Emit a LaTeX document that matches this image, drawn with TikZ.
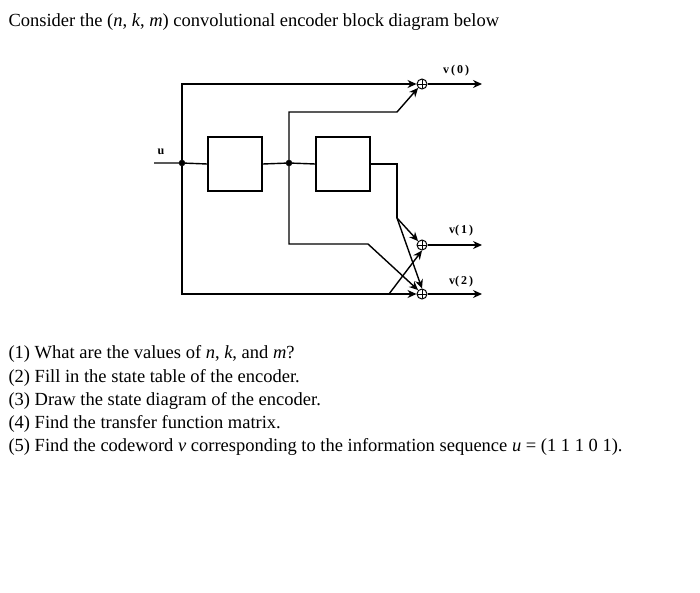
\documentclass[tikz,border=0pt]{standalone}
\usepackage{fontspec}
\setmainfont{Liberation Serif}
\usetikzlibrary{arrows.meta}
\begin{document}
\begin{tikzpicture}[x=1pt,y=-1pt,
  wire/.style={line width=1.4pt},
  arr/.style={wire,-{Stealth[length=9pt,width=8pt]}},
  reg/.style={draw,line width=1.4pt,minimum width=54pt,minimum height=54pt,inner sep=0},
  add/.style={circle,draw,line width=1pt,minimum size=10pt,inner sep=0,path picture={\draw[line width=1pt] (path picture bounding box.north)--(path picture bounding box.south) (path picture bounding box.west)--(path picture bounding box.east);}},
  dot/.style={circle,fill,draw,inner sep=0,minimum size=6pt},
  txt/.style={anchor=base west,font=\fontsize{18.5}{20}\selectfont},
  lab/.style={font=\bfseries\fontsize{12}{14}\selectfont}]
\useasboundingbox (0,0) rectangle (700,592);
\node[txt] (title) at (5,26) {Consider the (\textit{n}, \textit{k}, \textit{m}) convolutional encoder block diagram below};
\coordinate (in) at (154,163);
\node[dot] (d1) at (182,163) {};
\node[reg] (r1) at (235,164) {};
\node[dot] (d2) at (289,163) {};
\node[reg] (r2) at (343,164) {};
\node[add] (a0) at (422,84) {};
\node[add] (a1) at (422,245) {};
\node[add] (a2) at (422,294) {};
\coordinate (o0) at (482,84);
\coordinate (o1) at (482,245);
\coordinate (o2) at (482,294);
\node[lab] (u) at (161,152) {u};
\node[lab] (l0) at (456,71) {v\,(\,0\,)};
\node[lab] (l1) at (461,231) {v(\,1\,)};
\node[lab] (l2) at (461,282) {v(\,2\,)};
\draw[wire] (in) -- (d1) -- (r1.west) (r1.east) -- (d2) -- (r2.west);
\draw[arr] (d1) |- (a0.west);
\draw[arr] (d2) |- (397,112) -- (a0.south west);
\draw[wire] (r2.east) -| (397,218) coordinate (s1);
\draw[arr] (s1) -- (a1.north west);
\draw[arr] (s1) -- (a2.north);
\draw[arr] (d2) |- (368,244) -- (a2.north west);
\draw[wire] (d1) |- (389,294) coordinate (s2);
\draw[arr] (s2) -- (a2.west);
\draw[arr] (s2) -- (a1.south);
\draw[arr] (a0) -- (o0);
\draw[arr] (a1) -- (o1);
\draw[arr] (a2) -- (o2);
\node[txt] (q1) at (5,358) {(1) What are the values of \textit{n}, \textit{k}, and \textit{m}?};
\node[txt] (q2) at (5,382) {(2) Fill in the state table of the encoder.};
\node[txt] (q3) at (5,405) {(3) Draw the state diagram of the encoder.};
\node[txt] (q4) at (5,428) {(4) Find the transfer function matrix.};
\node[txt] (q5) at (5,451) {(5) Find the codeword \textit{v} corresponding to the information sequence \textit{u} = (1 1 1 0 1).};
\end{tikzpicture}
\end{document}
